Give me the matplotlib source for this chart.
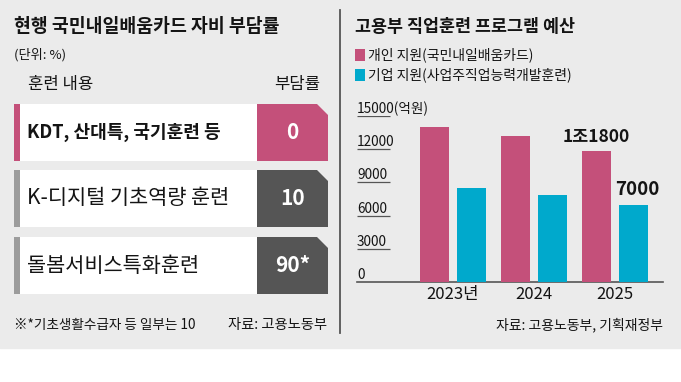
import matplotlib
matplotlib.use("Agg")
import matplotlib.pyplot as plt
from matplotlib.patches import Rectangle, Polygon
from matplotlib.transforms import offset_copy

plt.rcParams['font.family'] = ['Noto Sans CJK KR', 'DejaVu Sans']

# 왼쪽 표 데이터
items = ['KDT, 산대특, 국기훈련 등', 'K-디지털 기초역량 훈련', '돌봄서비스특화훈련']
burden = [0, 10, 90]
burden_mark = ['', '', '*']

# 오른쪽 막대 데이터 (억원)
years = ['2023년', '2024', '2025']
personal = [14000, 13200, 11800]
company = [8500, 7900, 7000]
yticks = [0, 3000, 6000, 9000, 12000, 15000]

PINK = '#c4507a'
CYAN = '#00a9cc'
BG = '#ebebeb'
DARK = '#555555'
LGRAY = '#9c9c9c'
INK = '#141414'

W, H = 681, 382
fig = plt.figure(figsize=(W / 100, H / 100), dpi=100)

# 픽셀 좌표계 배경 axes
bg = fig.add_axes([0, 0, 1, 1])
bg.set_xlim(0, W)
bg.set_ylim(H, 0)
bg.axis('off')
bg.add_patch(Rectangle((0, 0), W, 348, color=BG, zorder=0))
bg.plot([340, 340], [10, 333], color=DARK, lw=1.3)

# ---- 왼쪽: 자비 부담률 표
bg.text(14, 27, '현행 국민내일배움카드 자비 부담률', fontsize=13.2, fontweight='bold',
        color=INK, va='center')
bg.text(14, 55, '(단위: %)', fontsize=9.5, color=INK, va='center')
bg.text(28, 85, '훈련 내용', fontsize=12, color=INK, va='center')
bg.text(320, 85, '부담률', fontsize=12, color=INK, va='center', ha='right')

row_top = [104, 170, 237]
row_h = 57
row_fs = [13, 15, 15]
for i, (name, val, mark) in enumerate(zip(items, burden, burden_mark)):
    y0 = row_top[i]
    accent = PINK if i == 0 else LGRAY
    box = PINK if i == 0 else DARK
    bg.add_patch(Rectangle((14, y0), 6, row_h, color=accent, lw=0))
    bg.add_patch(Rectangle((20, y0), 237, row_h, color='white', lw=0))
    cut = 11
    bg.add_patch(Polygon([(257, y0), (328 - cut, y0), (328, y0 + cut),
                          (328, y0 + row_h), (257, y0 + row_h)],
                         closed=True, color=box, lw=0))
    bg.text(27, y0 + row_h / 2, name, fontsize=row_fs[i],
            fontweight='bold' if i == 0 else 'normal', color=INK, va='center')
    bg.text(292.5, y0 + row_h / 2, f'{val}{mark}', fontsize=15, fontweight='bold',
            color='white', va='center', ha='center')

bg.text(14, 325, '※*기초생활수급자 등 일부는 10', fontsize=9.8, color=INK, va='center')
bg.text(327, 325, '자료: 고용노동부', fontsize=10.3, color=INK, va='center', ha='right')

# ---- 오른쪽: 예산 막대 그래프
bg.text(355, 27, '고용부 직업훈련 프로그램 예산', fontsize=12.5, fontweight='bold',
        color=INK, va='center')
legend_items = [('개인 지원(국민내일배움카드)', PINK), ('기업 지원(사업주직업능력개발훈련)', CYAN)]
for k, (lab, col) in enumerate(legend_items):
    yc = 55 + 20 * k
    bg.add_patch(Rectangle((355, yc - 6), 10, 12, color=col, lw=0))
    bg.text(368, yc, lab, fontsize=10, color=INK, va='center')

ax_l, ax_r, ax_b, ax_t = 357, 663, 282, 116
ax = fig.add_axes([ax_l / W, (H - ax_b) / H, (ax_r - ax_l) / W, (ax_b - ax_t) / H])
ax.patch.set_alpha(0)
ax.set_ylim(0, 15000)
ax.set_xlim(-1.185, 2.593)

x = list(range(len(years)))
bw = 0.358
off = 0.228
ax.bar([i - off for i in x], personal, bw, color=PINK, zorder=3)
ax.bar([i + off for i in x], company, bw, color=CYAN, zorder=3)

for s in ['top', 'right', 'left']:
    ax.spines[s].set_visible(False)
ax.spines['bottom'].set_color(DARK)
ax.spines['bottom'].set_linewidth(1.2)
ax.set_yticks([])
ax.set_xticks(x, years)
ax.tick_params(axis='x', length=0, pad=3, labelsize=12, labelcolor=INK)

ytr = ax.get_yaxis_transform()
lab_tr = offset_copy(ytr, fig=fig, y=3, units='dots')
ax.hlines(yticks[1:], 0, 0.108, transform=ytr, color=DARK, lw=0.9)
for v in yticks:
    txt = f'{v}(억원)' if v == yticks[-1] else f'{v}'
    ax.text(0, v, txt, transform=lab_tr, fontsize=9.8, color=INK, va='baseline', ha='left')


def fmt(v):
    if v >= 10000:
        return f'{v // 10000}조{v % 10000}'
    return f'{v}'


ax.annotate(fmt(personal[-1]), (x[-1] - off, personal[-1]), xytext=(0, 4),
            textcoords='offset points', ha='center', va='bottom',
            fontsize=12.5, fontweight='bold', color=INK)
ax.annotate(fmt(company[-1]), (x[-1] + off, company[-1]), xytext=(3, 4),
            textcoords='offset points', ha='center', va='bottom',
            fontsize=13.5, fontweight='bold', color=INK)

bg.text(663, 325, '자료: 고용노동부, 기획재정부', fontsize=10, color=INK,
        va='center', ha='right')

fig.savefig('out.png', dpi=100)
